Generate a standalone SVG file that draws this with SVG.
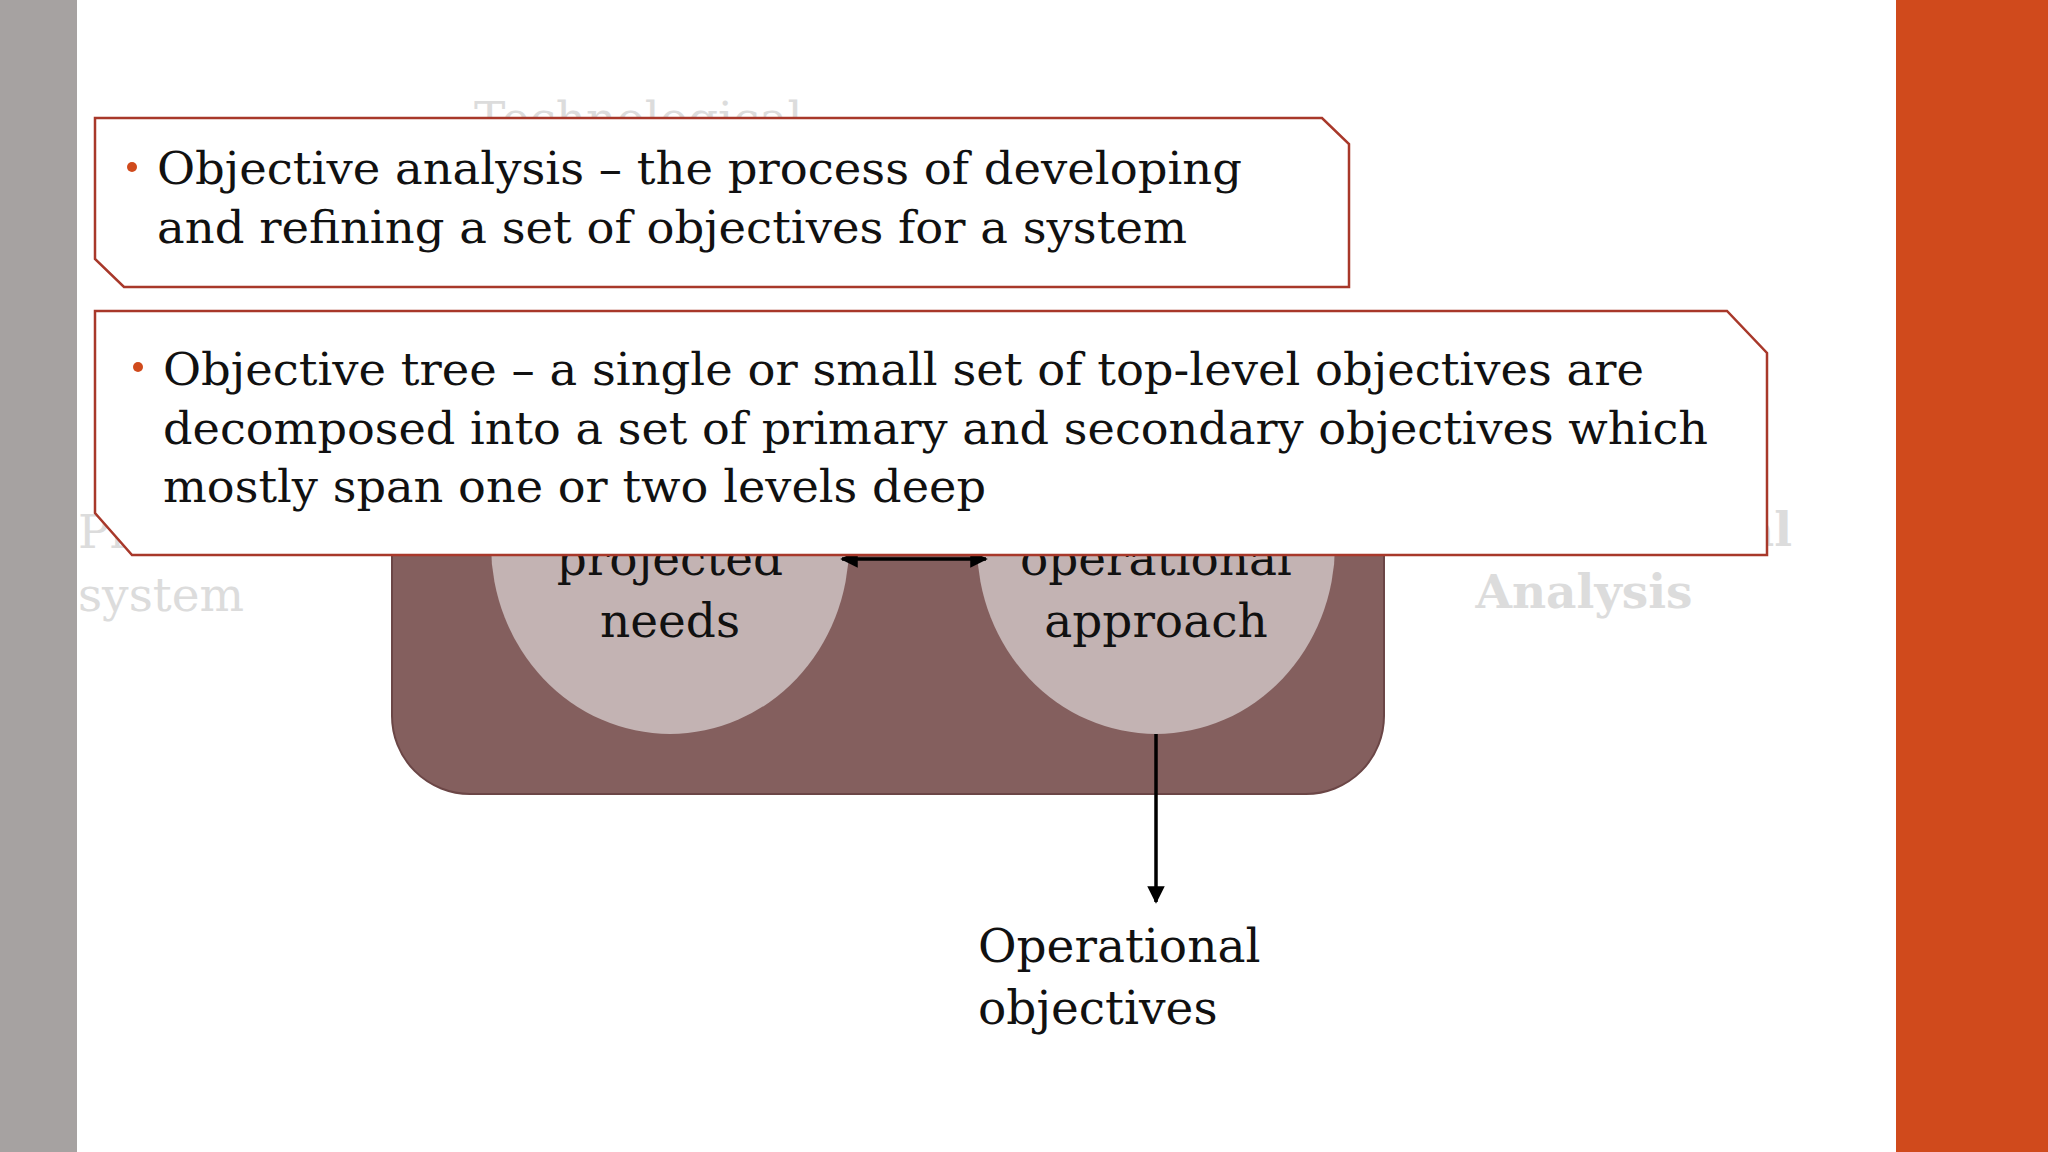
<svg xmlns="http://www.w3.org/2000/svg" width="2048" height="1152" viewBox="0 0 2048 1152">
<defs>
<style>
.t{font-family:"DejaVu Serif","Liberation Serif",serif;fill:#111}
.f{font-family:"DejaVu Serif","Liberation Serif",serif;fill:#dcdcdc}
.box{fill:#fff;stroke:#a8382a;stroke-width:2.5}
.dot{fill:#d04a1c}
</style>
<marker id="ah" viewBox="0 0 10 10" refX="9" refY="5" markerWidth="5" markerHeight="5" orient="auto-start-reverse"><path d="M0,0L10,5L0,10z" fill="#000"/></marker>
</defs>
<rect x="0" y="0" width="2048" height="1152" fill="#fff"/>
<rect x="0" y="0" width="77" height="1152" fill="#a6a2a1"/>
<rect x="1896" y="0" width="152" height="1152" fill="#d04a1c"/>
<g id="faded">
<text class="f" x="474" y="135" font-size="47">Technological</text>
<text class="f" x="78" y="548" font-size="47">Pr</text>
<text class="f" x="78" y="611" font-size="47">system</text>
<text class="f" x="1792" y="546" font-size="47" font-weight="bold" text-anchor="end">Operational</text>
<text class="f" x="1584" y="608" font-size="47" font-weight="bold" text-anchor="middle">Analysis</text>
</g>
<g id="container"><rect x="392" y="440" width="992" height="354" rx="78" fill="#845f5e" stroke="#6b4646" stroke-width="2"/></g>
<g id="needs"><ellipse cx="670" cy="545" rx="179" ry="189" fill="#c3b3b3"/>
<text class="t" x="670" y="575" font-size="47" text-anchor="middle">projected</text>
<text class="t" x="670" y="637" font-size="47" text-anchor="middle">needs</text></g>
<g id="approach"><ellipse cx="1156" cy="545" rx="179" ry="189" fill="#c3b3b3"/>
<text class="t" x="1156" y="575" font-size="47" text-anchor="middle">operational</text>
<text class="t" x="1156" y="637" font-size="47" text-anchor="middle">approach</text></g>
<g id="connectors" stroke="#000" stroke-width="3.5" fill="none">
<line x1="842" y1="559" x2="986" y2="559" marker-start="url(#ah)" marker-end="url(#ah)"/>
<line x1="1156" y1="734" x2="1156" y2="902" marker-end="url(#ah)"/>
</g>
<g id="objectives">
<text class="t" x="978" y="962" font-size="47">Operational</text>
<text class="t" x="978" y="1024" font-size="47">objectives</text></g>
<g id="box1">
<path class="box" d="M95,118H1322L1349,144V287H124L95,259Z"/>
<circle class="dot" cx="132" cy="167" r="5"/>
<text class="t" x="157" y="184" font-size="45" textLength="1085" lengthAdjust="spacingAndGlyphs">Objective analysis – the process of developing</text>
<text class="t" x="157" y="243" font-size="45" textLength="1030" lengthAdjust="spacingAndGlyphs">and refining a set of objectives for a system</text>
</g>
<g id="box2">
<path class="box" d="M95,311H1727L1767,353V555H132L95,513Z"/>
<circle class="dot" cx="138" cy="367" r="5"/>
<text class="t" x="163" y="385" font-size="45" textLength="1481" lengthAdjust="spacingAndGlyphs">Objective tree – a single or small set of top-level objectives are</text>
<text class="t" x="163" y="444" font-size="45" textLength="1545" lengthAdjust="spacingAndGlyphs">decomposed into a set of primary and secondary objectives which</text>
<text class="t" x="163" y="502" font-size="45" textLength="823" lengthAdjust="spacingAndGlyphs">mostly span one or two levels deep</text>
</g>
</svg>
